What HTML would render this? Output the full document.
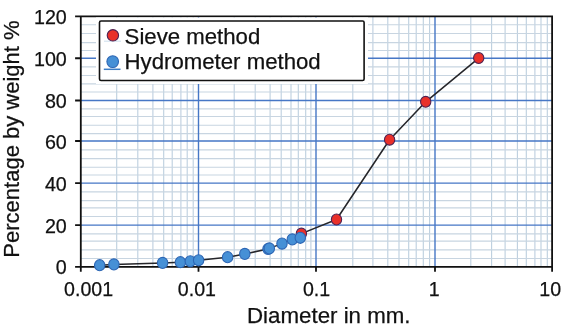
<!DOCTYPE html>
<html><head><meta charset="utf-8"><style>html,body{margin:0;padding:0;background:#fff;width:562px;height:330px;overflow:hidden}svg{display:block;filter:blur(0.35px)}</style></head>
<body><svg width="562" height="330" viewBox="0 0 562 330" font-family="'Liberation Sans', Arial, sans-serif" fill="#111">
<style>text{stroke:#111;stroke-width:0.25px}</style>
<rect width="562" height="330" fill="#fff"/>
<path d="M116.70 16.4V266.9M137.80 16.4V266.9M152.90 16.4V266.9M163.70 16.4V266.9M172.20 16.4V266.9M180.90 16.4V266.9M187.20 16.4V266.9M193.20 16.4V266.9M234.20 16.4V266.9M255.20 16.4V266.9M270.10 16.4V266.9M281.20 16.4V266.9M291.00 16.4V266.9M298.30 16.4V266.9M305.70 16.4V266.9M310.90 16.4V266.9M352.80 16.4V266.9M372.90 16.4V266.9M387.80 16.4V266.9M399.00 16.4V266.9M408.70 16.4V266.9M416.20 16.4V266.9M423.30 16.4V266.9M429.60 16.4V266.9M470.80 16.4V266.9M491.60 16.4V266.9M505.10 16.4V266.9M517.40 16.4V266.9M526.30 16.4V266.9M534.90 16.4V266.9M541.00 16.4V266.9M547.30 16.4V266.9" stroke="#bdcfdf" stroke-width="1.1" fill="none"/>
<path d="M80.8 24.70H552.1M80.8 33.50H552.1M80.8 42.60H552.1M80.8 50.50H552.1M80.8 66.90H552.1M80.8 75.50H552.1M80.8 83.90H552.1M80.8 92.00H552.1M80.8 108.90H552.1M80.8 116.50H552.1M80.8 125.20H552.1M80.8 133.60H552.1M80.8 149.90H552.1M80.8 158.60H552.1M80.8 167.30H552.1M80.8 175.00H552.1M80.8 191.90H552.1M80.8 200.60H552.1M80.8 207.90H552.1M80.8 216.50H552.1M80.8 233.90H552.1M80.8 241.10H552.1M80.8 249.90H552.1M80.8 258.50H552.1" stroke="#c8d5e1" stroke-width="1.1" fill="none"/>
<path d="M198.50 16.4V266.9M316.00 16.4V266.9M435.00 16.4V266.9M80.8 225.10H552.1M80.8 183.10H552.1M80.8 141.00H552.1M80.8 100.50H552.1M80.8 58.25H552.1" stroke="#4677c6" stroke-width="1.4" fill="none"/>
<path d="M80.8 16.4H552.1V266.9H80.8ZM75.1 266.90H80.8M75.1 225.10H80.8M75.1 183.10H80.8M75.1 141.00H80.8M75.1 100.50H80.8M75.1 58.25H80.8M75.1 16.40H80.8M80.80 266.9V271.8M198.50 266.9V271.8M316.00 266.9V271.8M435.00 266.9V271.8M552.10 266.9V271.8" stroke="#111" stroke-width="1.8" fill="none" stroke-linecap="butt"/>
<path d="M99.70 265.20 L113.90 264.40 L162.60 262.90 L180.40 262.20 L190.30 261.30 L198.60 260.30 L227.60 257.20 L244.80 253.90 L268.00 249.00 L269.30 248.40 L282.00 243.60 L292.30 239.40 L300.30 237.80" stroke="#26262a" stroke-width="1.55" fill="none" stroke-linejoin="round"/>
<path d="M301.40 233.60 L336.50 219.50 L389.60 139.70 L425.70 101.80 L478.70 58.10" stroke="#26262a" stroke-width="1.55" fill="none" stroke-linejoin="round"/>
<ellipse cx="301.4" cy="233.6" rx="5.15" ry="5.45" fill="#e9302a" stroke="#4e2252" stroke-width="1.1"/>
<ellipse cx="336.5" cy="219.5" rx="5.15" ry="5.45" fill="#e9302a" stroke="#4e2252" stroke-width="1.1"/>
<ellipse cx="389.6" cy="139.7" rx="5.15" ry="5.45" fill="#e9302a" stroke="#4e2252" stroke-width="1.1"/>
<ellipse cx="425.7" cy="101.8" rx="5.15" ry="5.45" fill="#e9302a" stroke="#4e2252" stroke-width="1.1"/>
<ellipse cx="478.7" cy="58.1" rx="5.15" ry="5.45" fill="#e9302a" stroke="#4e2252" stroke-width="1.1"/>
<ellipse cx="99.7" cy="265.2" rx="5.2" ry="5.55" fill="#4690d6" stroke="#2d66b4" stroke-width="1.1"/>
<ellipse cx="113.9" cy="264.4" rx="5.2" ry="5.55" fill="#4690d6" stroke="#2d66b4" stroke-width="1.1"/>
<ellipse cx="162.6" cy="262.9" rx="5.2" ry="5.55" fill="#4690d6" stroke="#2d66b4" stroke-width="1.1"/>
<ellipse cx="180.4" cy="262.2" rx="5.2" ry="5.55" fill="#4690d6" stroke="#2d66b4" stroke-width="1.1"/>
<ellipse cx="190.3" cy="261.3" rx="5.2" ry="5.55" fill="#4690d6" stroke="#2d66b4" stroke-width="1.1"/>
<ellipse cx="198.6" cy="260.3" rx="5.2" ry="5.55" fill="#4690d6" stroke="#2d66b4" stroke-width="1.1"/>
<ellipse cx="227.6" cy="257.2" rx="5.2" ry="5.55" fill="#4690d6" stroke="#2d66b4" stroke-width="1.1"/>
<ellipse cx="244.8" cy="253.9" rx="5.2" ry="5.55" fill="#4690d6" stroke="#2d66b4" stroke-width="1.1"/>
<ellipse cx="268" cy="249" rx="5.2" ry="5.55" fill="#4690d6" stroke="#2d66b4" stroke-width="1.1"/>
<ellipse cx="269.3" cy="248.4" rx="5.2" ry="5.55" fill="#4690d6" stroke="#2d66b4" stroke-width="1.1"/>
<ellipse cx="282" cy="243.6" rx="5.2" ry="5.55" fill="#4690d6" stroke="#2d66b4" stroke-width="1.1"/>
<ellipse cx="292.3" cy="239.4" rx="5.2" ry="5.55" fill="#4690d6" stroke="#2d66b4" stroke-width="1.1"/>
<ellipse cx="300.3" cy="237.8" rx="5.2" ry="5.55" fill="#4690d6" stroke="#2d66b4" stroke-width="1.1"/>
<rect x="96" y="17.5" width="272" height="66.5" fill="#fff"/>
<rect x="99.5" y="21" width="264.6" height="59.5" rx="1.5" fill="#fff" stroke="#111" stroke-width="1.6"/>
<path d="M104 41.2H121" stroke="#d3e2ef" stroke-width="1.2"/>
<ellipse cx="112.9" cy="35.3" rx="5.7" ry="5.7" fill="#e9302a" stroke="#4e2252" stroke-width="1.1"/>
<path d="M103.8 69.3H120.5" stroke="#3d7cc4" stroke-width="1.5"/>
<ellipse cx="112.7" cy="61.6" rx="5.8" ry="5.9" fill="#4690d6" stroke="#2d66b4" stroke-width="1.1"/>
<text x="124.6" y="43.9" font-size="22.2">Sieve method</text>
<text x="124.6" y="68.8" font-size="22.2">Hydrometer method</text>
<text x="66.8" y="274.40" font-size="19.7" text-anchor="end">0</text>
<text x="66.8" y="232.60" font-size="19.7" text-anchor="end">20</text>
<text x="66.8" y="190.60" font-size="19.7" text-anchor="end">40</text>
<text x="66.8" y="148.50" font-size="19.7" text-anchor="end">60</text>
<text x="66.8" y="108.00" font-size="19.7" text-anchor="end">80</text>
<text x="66.8" y="65.75" font-size="19.7" text-anchor="end">100</text>
<text x="66.8" y="23.90" font-size="19.7" text-anchor="end">120</text>
<text x="88.60" y="295.8" font-size="19.6" text-anchor="middle">0.001</text>
<text x="196.90" y="295.8" font-size="19.6" text-anchor="middle">0.01</text>
<text x="316.60" y="295.8" font-size="19.6" text-anchor="middle">0.1</text>
<text x="434.20" y="295.8" font-size="19.6" text-anchor="middle">1</text>
<text x="550.20" y="295.8" font-size="19.6" text-anchor="middle">10</text>
<text x="328.8" y="323" font-size="22.3" text-anchor="middle">Diameter in mm.</text>
<text transform="translate(19.2 139) rotate(-90)" font-size="22" text-anchor="middle">Percentage by weight %</text>
</svg></body></html>
